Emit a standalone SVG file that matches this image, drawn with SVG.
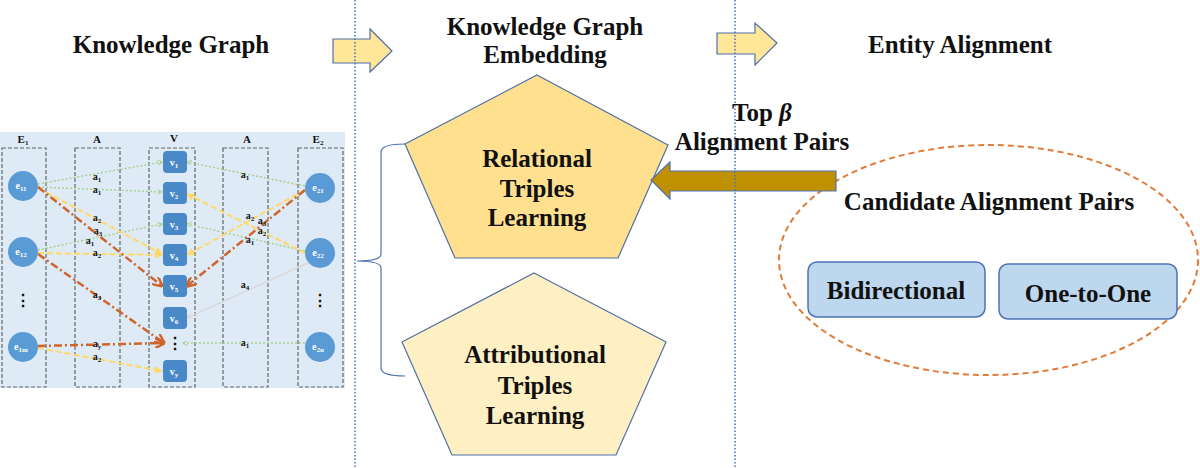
<svg xmlns="http://www.w3.org/2000/svg" width="1200" height="468" viewBox="0 0 1200 468" font-family="'Liberation Serif', 'Times New Roman', serif">
<style>
text{font-family:'Liberation Serif','Times New Roman',serif}
.t{font-weight:bold;fill:#111}
.h{font-size:25px;text-anchor:middle}
.s{font-size:11px;text-anchor:middle}
.w{font-weight:bold;font-size:10px;fill:#fff;text-anchor:middle}
.lbl{font-weight:bold;font-size:10px;fill:#111;text-anchor:middle}
.col{fill:none;stroke:#666;stroke-width:1.2;stroke-dasharray:4 2}
.ent{fill:#5B9BD5}
.vn{fill:#4A89C8}
.g{fill:none;stroke:#A9D18E;stroke-width:1.5;stroke-dasharray:2 2;marker-end:url(#mg)}
.y{fill:none;stroke:#FFD966;stroke-width:2;stroke-dasharray:6 3;marker-end:url(#my)}
.r{fill:none;stroke:#D0652B;stroke-width:2.5;stroke-dasharray:8 3 2 3;marker-end:url(#mr)}
.gr{fill:none;stroke:#D9D9D9;stroke-width:1.5;marker-end:url(#mgr)}
.pent{stroke:#4F6FA8;stroke-width:1.2}
.vl{stroke:#4472C4;stroke-width:1.5;stroke-dasharray:1.5 2}
.fat{fill:#FFE699;stroke:#4F6FA8;stroke-width:1.2}
.box{fill:#BDD7EE;stroke:#4F72B5;stroke-width:1.5}
</style>
<defs>
<marker id="mg" viewBox="0 0 10 10" refX="9" refY="5" markerWidth="5" markerHeight="5" orient="auto" markerUnits="userSpaceOnUse"><path d="M0,0 L10,5 L0,10" fill="none" stroke="#A9D18E" stroke-width="2"/></marker>
<marker id="my" viewBox="0 0 10 10" refX="9" refY="5" markerWidth="8" markerHeight="8" orient="auto" markerUnits="userSpaceOnUse"><path d="M0,0 L10,5 L0,10 z" fill="#FFD966"/></marker>
<marker id="mr" viewBox="0 0 10 10" refX="9" refY="5" markerWidth="10" markerHeight="10" orient="auto" markerUnits="userSpaceOnUse"><path d="M0,0 L10,5 L0,10" fill="none" stroke="#D0652B" stroke-width="2.5"/></marker>
<marker id="mgr" viewBox="0 0 10 10" refX="9" refY="5" markerWidth="6" markerHeight="6" orient="auto" markerUnits="userSpaceOnUse"><path d="M0,0 L10,5 L0,10" fill="none" stroke="#D9D9D9" stroke-width="2"/></marker>
</defs>
<rect width="1200" height="468" fill="#fff"/>

<!-- headings -->
<g id="title-kg"><text class="t h" x="171" y="53">Knowledge Graph</text></g>
<g id="title-kge"><text class="t h" x="545" y="35">Knowledge Graph</text><text class="t h" x="545" y="63">Embedding</text></g>
<g id="title-ea"><text class="t h" x="960" y="53">Entity Alignment</text></g>

<!-- stage arrows -->
<g id="arrow1"><polygon class="fat" points="333,39 370,39 370,29 392,51 370,72 370,63 333,63"/></g>
<g id="arrow2"><polygon class="fat" points="717,33 755,33 755,23 777,43 755,65 755,54 717,54"/></g>

<!-- knowledge graph panel -->
<g id="kg-panel">
<rect x="0" y="132" width="345" height="256" fill="#DEEBF7"/>
<text class="t s" x="23" y="143">E<tspan font-size="7" dy="2">1</tspan></text>
<text class="t s" x="97" y="143">A</text>
<text class="t s" x="174" y="142">V</text>
<text class="t s" x="247" y="143">A</text>
<text class="t s" x="318" y="143">E<tspan font-size="7" dy="2">2</tspan></text>
<rect class="col" x="2" y="148" width="44" height="239"/>
<rect class="col" x="75" y="148" width="45" height="239"/>
<rect class="col" x="149" y="148" width="46" height="239"/>
<rect class="col" x="223" y="148" width="45" height="239"/>
<rect class="col" x="298" y="148" width="45" height="239"/>
</g>

<g id="connectors">
<path class="g" d="M38,184 L162,162"/>
<path class="g" d="M38,187 L162,192"/>
<path class="g" d="M38,250 L162,224"/>
<path class="g" d="M305,186 L187,162"/>
<path class="g" d="M305,251 L187,224"/>
<path class="g" d="M305,343 L183,343"/>
<path class="y" d="M38,188 L162,254"/>
<path class="y" d="M38,253 L162,255"/>
<path class="y" d="M38,348 L162,371"/>
<path class="y" d="M305,190 L187,255"/>
<path class="y" d="M305,253 L187,194"/>
<path class="gr" d="M310,262 L187,318"/>
<path class="r" d="M38,187 L162,286"/>
<path class="r" d="M38,254 L164,343"/>
<path class="r" d="M38,346 L164,343"/>
<path class="r" d="M305,190 L187,286"/>
<g id="edge-labels">
<text class="lbl" x="97" y="180">a<tspan font-size="7" dy="2">1</tspan></text>
<text class="lbl" x="97" y="193">a<tspan font-size="7" dy="2">1</tspan></text>
<text class="lbl" x="97" y="221">a<tspan font-size="7" dy="2">2</tspan></text>
<text class="lbl" x="98" y="234">a<tspan font-size="7" dy="2">3</tspan></text>
<text class="lbl" x="90" y="244">a<tspan font-size="7" dy="2">1</tspan></text>
<text class="lbl" x="97" y="256">a<tspan font-size="7" dy="2">2</tspan></text>
<text class="lbl" x="97" y="298">a<tspan font-size="7" dy="2">3</tspan></text>
<text class="lbl" x="97" y="347">a<tspan font-size="7" dy="2">y</tspan></text>
<text class="lbl" x="97" y="360">a<tspan font-size="7" dy="2">2</tspan></text>
<text class="lbl" x="245" y="178">a<tspan font-size="7" dy="2">1</tspan></text>
<text class="lbl" x="250" y="219">a<tspan font-size="7" dy="2">2</tspan></text>
<text class="lbl" x="262" y="224">a<tspan font-size="7" dy="2">3</tspan></text>
<text class="lbl" x="262" y="234">a<tspan font-size="7" dy="2">2</tspan></text>
<text class="lbl" x="250" y="243">a<tspan font-size="7" dy="2">1</tspan></text>
<text class="lbl" x="245" y="288">a<tspan font-size="7" dy="2">4</tspan></text>
<text class="lbl" x="245" y="346">a<tspan font-size="7" dy="2">1</tspan></text>
</g>
<path id="brace" d="M405,144 Q381,144 381,152 L381,254 Q381,261 357,261 Q381,261 381,268 L381,368 Q381,376 405,376" fill="none" stroke="#4F72B5" stroke-width="1.2"/>
</g>

<!-- entity nodes -->
<g id="e11"><circle class="ent" cx="23" cy="186" r="15"/><text class="w" x="21" y="189">e<tspan font-size="7" dy="2">11</tspan></text></g>
<g id="e12"><circle class="ent" cx="23" cy="252" r="15"/><text class="w" x="21" y="255">e<tspan font-size="7" dy="2">12</tspan></text></g>
<g id="e1dots"><text class="t s" x="23" y="306" style="font-size:16px">⋮</text></g>
<g id="e1m"><circle class="ent" cx="23" cy="347" r="15"/><text class="w" x="21" y="350">e<tspan font-size="7" dy="2">1m</tspan></text></g>
<g id="e21"><circle class="ent" cx="320" cy="188" r="15"/><text class="w" x="318" y="191">e<tspan font-size="7" dy="2">21</tspan></text></g>
<g id="e22"><circle class="ent" cx="320" cy="253" r="15"/><text class="w" x="318" y="256">e<tspan font-size="7" dy="2">22</tspan></text></g>
<g id="e2dots"><text class="t s" x="320" y="306" style="font-size:16px">⋮</text></g>
<g id="e2n"><circle class="ent" cx="320" cy="347" r="15"/><text class="w" x="318" y="350">e<tspan font-size="7" dy="2">2n</tspan></text></g>

<!-- value nodes -->
<g id="v1"><rect class="vn" x="163" y="151" width="24" height="22" rx="4"/><text class="w" x="174" y="166">v<tspan font-size="7" dy="2">1</tspan></text></g>
<g id="v2"><rect class="vn" x="163" y="182" width="24" height="22" rx="4"/><text class="w" x="174" y="197">v<tspan font-size="7" dy="2">2</tspan></text></g>
<g id="v3"><rect class="vn" x="163" y="213" width="24" height="22" rx="4"/><text class="w" x="174" y="228">v<tspan font-size="7" dy="2">3</tspan></text></g>
<g id="v4"><rect class="vn" x="163" y="244" width="24" height="22" rx="4"/><text class="w" x="174" y="259">v<tspan font-size="7" dy="2">4</tspan></text></g>
<g id="v5"><rect class="vn" x="163" y="275" width="24" height="22" rx="4"/><text class="w" x="174" y="290">v<tspan font-size="7" dy="2">5</tspan></text></g>
<g id="v6"><rect class="vn" x="163" y="307" width="24" height="22" rx="4"/><text class="w" x="174" y="322">v<tspan font-size="7" dy="2">6</tspan></text></g>
<g id="vdots"><text class="t s" x="175" y="349" style="font-size:16px">⋮</text></g>
<g id="vy"><rect class="vn" x="163" y="360" width="24" height="22" rx="4"/><text class="w" x="174" y="375">v<tspan font-size="7" dy="2">y</tspan></text></g>

<!-- embedding pentagons -->
<g id="relational">
<polygon class="pent" fill="#FFE08F" points="537,75 668,145 618,258 455,258 405,144"/>
<text class="t h" x="537" y="167">Relational</text>
<text class="t h" x="537" y="197">Triples</text>
<text class="t h" x="537" y="226">Learning</text>
</g>
<g id="attributional">
<polygon class="pent" fill="#FFF0C4" points="534,273 666,342 616,455 452,455 402,342"/>
<text class="t h" x="535" y="363">Attributional</text>
<text class="t h" x="535" y="394">Triples</text>
<text class="t h" x="535" y="424">Learning</text>
</g>

<!-- entity alignment -->
<g id="candidates">
<ellipse cx="988.5" cy="260" rx="209.5" ry="115" fill="none" stroke="#E07B39" stroke-width="2" stroke-dasharray="6 4"/>
<text class="t h" x="989" y="210">Candidate Alignment Pairs</text>
</g>
<g id="bidirectional"><rect class="box" x="808" y="262" width="177" height="55" rx="9"/><text class="t h" x="896" y="299">Bidirectional</text></g>
<g id="one-to-one"><rect class="box" x="999" y="264" width="178" height="55" rx="9"/><text class="t h" x="1088" y="302">One-to-One</text></g>

<g id="feedback">
<polygon fill="#BF9000" stroke="#4F72B5" stroke-width="1.2" points="836,171 670,171 670,162 651,180 670,199 670,191 836,191"/>
<text class="t h" x="762" y="121">Top <tspan font-style="italic">β</tspan></text>
<text class="t h" x="762" y="150">Alignment Pairs</text>
</g>

<line class="vl" x1="355" y1="0" x2="355" y2="468"/>
<line class="vl" x1="735" y1="0" x2="735" y2="468"/>
</svg>
